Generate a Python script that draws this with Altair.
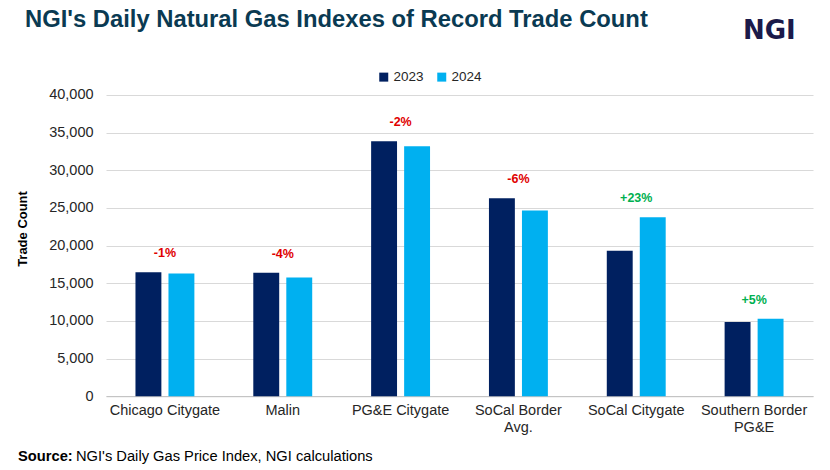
import altair as alt
import pandas as pd

categories = ["Chicago Citygate", "Malin", "PG&E Citygate", "SoCal Border Avg.",
              "SoCal Citygate", "Southern Border PG&E"]
years = ["2023", "2024"]
values_2023 = [16450, 16400, 33850, 26300, 19300, 9850]
values_2024 = [16300, 15750, 33200, 24650, 23750, 10300]
pct_change = [-1, -4, -2, -6, 23, 5]
y_ticks = [0, 5000, 10000, 15000, 20000, 25000, 30000, 35000, 40000]

title_text = "NGI's Daily Natural Gas Indexes of Record Trade Count"
logo_text = "NGI"
source_bold = "Source:"
source_text = "NGI's Daily Gas Price Index, NGI calculations"

FONT = "Liberation Sans"
NAVY = "#002060"
CYAN = "#00B0F0"

rows = []
for c, a, b in zip(categories, values_2023, values_2024):
    rows.append({"category": c, "year": "2023", "value": a})
    rows.append({"category": c, "year": "2024", "value": b})
df = pd.DataFrame(rows)

lab = pd.DataFrame({
    "category": categories,
    "top": [max(a, b) for a, b in zip(values_2023, values_2024)],
    "pct": pct_change,
})

x_axis = alt.Axis(
    labelAngle=0, labelFont=FONT, labelFontSize=14.5, labelColor="#262626",
    labelPadding=7, labelLineHeight=17, ticks=False, domainColor="#bfbfbf",
    domainWidth=1, grid=False,
    labelExpr="length(datum.label) > 16 ? [substring(datum.label, 0, lastindexof(datum.label, ' ')), substring(datum.label, lastindexof(datum.label, ' ') + 1)] : datum.label",
)
y_axis = alt.Axis(
    values=y_ticks, format=",.0f", labelFont=FONT, labelFontSize=14.5,
    labelColor="#262626", labelPadding=13, ticks=False, domain=False,
    labelOverlap=False,
    gridColor="#d9d9d9", gridWidth=1,
    titleFont=FONT, titleFontSize=13, titleFontWeight="bold",
    titleColor="#000000", titleX=-84, titleY=133.5,
    titleAlign="center", titleBaseline="middle", titleAngle=-90,
)
x_scale = alt.Scale(paddingInner=0.5, paddingOuter=0.25)
y_scale = alt.Scale(domain=[0, 40000], nice=False)

bars = alt.Chart(df).mark_bar().encode(
    x=alt.X("category:N", sort=categories, title=None, scale=x_scale, axis=x_axis),
    xOffset=alt.XOffset("year:N", sort=years,
                        scale=alt.Scale(paddingInner=0.215, paddingOuter=0)),
    y=alt.Y("value:Q", scale=y_scale, title="Trade Count", axis=y_axis),
    color=alt.Color(
        "year:N", scale=alt.Scale(domain=years, range=[NAVY, CYAN]),
        legend=alt.Legend(
            title=None, orient="none", legendX=271, legendY=-25,
            direction="horizontal", symbolType="square", symbolSize=81,
            symbolStrokeWidth=0, labelFont=FONT, labelFontSize=13.5,
            labelColor="#262626", labelOffset=3, columnPadding=11, padding=0,
        ),
    ),
)

pct_labels = alt.Chart(lab).transform_calculate(
    label="(datum.pct > 0 ? '+' : '') + datum.pct + '%'"
).mark_text(
    font=FONT, fontSize=12.5, fontWeight="bold", baseline="middle", dy=-19
).encode(
    x=alt.X("category:N", sort=categories, title=None, scale=x_scale, axis=x_axis),
    y=alt.Y("top:Q", scale=y_scale, title="Trade Count", axis=y_axis),
    text="label:N",
    color=alt.condition("datum.pct > 0", alt.value("#00B050"), alt.value("#E00000")),
)


def free_text(text, x, y, **kw):
    return alt.Chart(pd.DataFrame({"t": [text]})).mark_text(
        align="left", baseline="alphabetic", **kw
    ).encode(x=alt.value(x), y=alt.value(y), text="t:N")


title = free_text(title_text, -81, -67.5, font=FONT, fontSize=23.8,
                  fontWeight="bold", color="#0a3a52")
logo = free_text(logo_text, 637, -56, font="DejaVu Sans", fontSize=26,
                 fontWeight="bold", color="#1b1a4a")
src1 = free_text(source_bold, -88, 366.5, font=FONT, fontSize=14.7,
                 fontWeight="bold", color="#000000")
src2 = free_text(source_text, -30, 366.5, font=FONT, fontSize=14.7,
                 color="#000000")

chart = alt.layer(bars, pct_labels, title, logo, src1, src2).properties(
    width=707, height=301.2,
    autosize=alt.AutoSizeParams(type="none"),
    padding={"left": 106, "top": 95, "right": 17, "bottom": 74},
    background="white",
).configure_view(stroke=None)

chart.save("out.html", embed_options={"renderer": "svg", "actions": False})
